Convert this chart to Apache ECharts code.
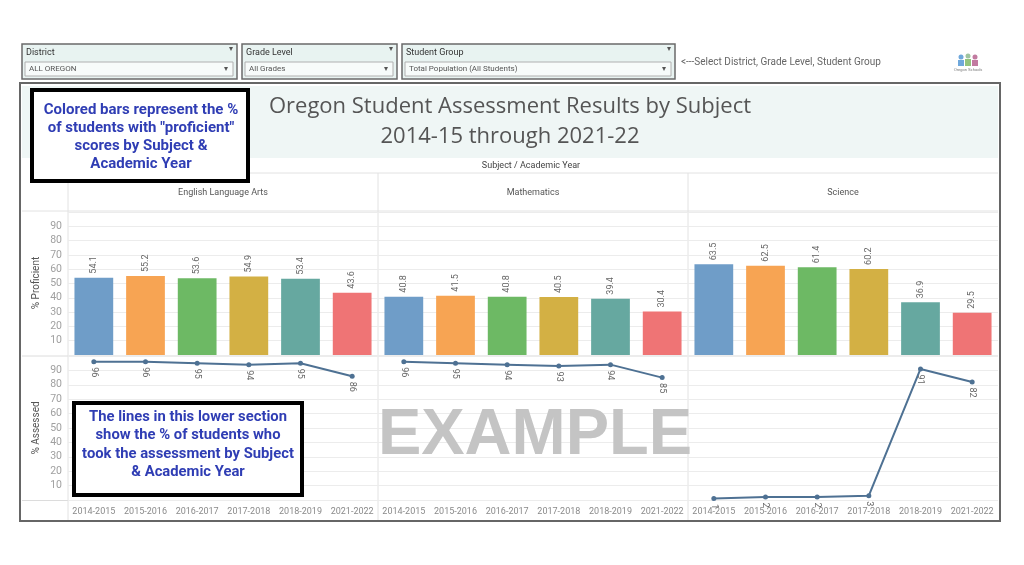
<!DOCTYPE html>
<html><head><meta charset="utf-8">
<script src="https://cdn.jsdelivr.net/npm/echarts@6/dist/echarts.min.js"></script>
<style>html,body{margin:0;padding:0;background:#fff}#c{width:1024px;height:565px}</style>
</head><body><div id="c"></div>
<script>
const years = ['2014-2015','2015-2016','2016-2017','2017-2018','2018-2019','2021-2022'];
const subjects = ['English Language Arts','Mathematics','Science'];
const proficientELA = [54.1,55.2,53.6,54.9,53.4,43.6];
const proficientMath = [40.8,41.5,40.8,40.5,39.4,30.4];
const proficientSci = [63.5,62.5,61.4,60.2,36.9,29.5];
const assessedELA = [96,96,95,94,95,86];
const assessedMath = [96,95,94,93,94,85];
const assessedSci = [1,2,2,3,91,82];
const yTicks = [10,20,30,40,50,60,70,80,90];

const barColors = ['#6f9dc8','#f7a453','#6db964','#d3b044','#66a8a0','#ef7475'];
const proficient = [proficientELA, proficientMath, proficientSci];
const assessed = [assessedELA, assessedMath, assessedSci];

const chart = echarts.init(document.getElementById('c'));
const panelLeft = [68, 378, 688];
const panelW = 310;
const grids = [], xAxes = [], yAxes = [], series = [];
for (let i = 0; i < 3; i++) {
  grids.push({left: panelLeft[i], top: 212, width: panelW, height: 143, containLabel: false});
}
for (let i = 0; i < 3; i++) {
  grids.push({left: panelLeft[i], top: 356, width: panelW, height: 144, containLabel: false});
}
const fontFam = 'Roboto, "Noto Sans", sans-serif';
for (let g = 0; g < 6; g++) {
  const bottomRow = g >= 3;
  xAxes.push({
    type: 'category', gridIndex: g, data: years, boundaryGap: true,
    axisLine: {show: false}, axisTick: {show: false},
    axisLabel: {show: bottomRow, color: '#8a8a8a', fontSize: 9, fontFamily: fontFam, margin: 7, interval: 0}
  });
  yAxes.push({
    type: 'value', gridIndex: g, min: 0, max: 100, interval: 10,
    axisLine: {show: false}, axisTick: {show: false},
    splitLine: {show: true, lineStyle: {color: '#ececec', width: 1}},
    axisLabel: {show: g === 0 || g === 3, color: '#a0a0a0', fontSize: 10.5, fontFamily: fontFam, margin: 6,
      formatter: v => yTicks.indexOf(v) >= 0 ? String(v) : ''}
  });
}
for (let i = 0; i < 3; i++) {
  series.push({
    type: 'bar', xAxisIndex: i, yAxisIndex: i, barWidth: '75%',
    data: proficient[i].map((v, k) => ({value: v, itemStyle: {color: barColors[k]}})),
    label: {show: true, position: 'top', rotate: 90, align: 'left', verticalAlign: 'middle', distance: 4,
      color: '#666', fontSize: 9, fontFamily: fontFam, formatter: p => p.value.toFixed(1)}
  });
  series.push({
    type: 'line', xAxisIndex: 3 + i, yAxisIndex: 3 + i, data: assessed[i],
    symbol: 'circle', symbolSize: 5,
    lineStyle: {color: '#4e7193', width: 2}, itemStyle: {color: '#4e7193'},
    label: {show: true, position: 'bottom', rotate: -90, align: 'left', verticalAlign: 'middle', distance: 3,
      color: '#666', fontSize: 9, fontFamily: fontFam},
    z: 20
  });
}

function filterBox(x, w, title, value) {
  return [
    {type: 'rect', shape: {x: x, y: 44, width: w, height: 35}, style: {fill: '#e8f3f1', stroke: '#6a6a6a', lineWidth: 1.5}},
    {type: 'text', style: {x: x + 4, y: 53, text: title, fill: '#333', fontSize: 9, fontFamily: fontFam, verticalAlign: 'middle'}},
    {type: 'text', style: {x: x + w - 6, y: 49, text: '▾', fill: '#555', fontSize: 8, align: 'center', verticalAlign: 'middle'}},
    {type: 'rect', shape: {x: x + 3, y: 62, width: w - 7, height: 14}, style: {fill: '#f7fbfa', stroke: '#b0b0b0', lineWidth: 1}},
    {type: 'text', style: {x: x + 7, y: 69, text: value, fill: '#555', fontSize: 8, fontFamily: fontFam, verticalAlign: 'middle'}},
    {type: 'text', style: {x: x + w - 11, y: 69, text: '▾', fill: '#555', fontSize: 8, align: 'center', verticalAlign: 'middle'}}
  ];
}
const annoColor = '#2f3db4';
const graphic = [].concat(
  filterBox(22, 215, 'District', 'ALL OREGON'),
  filterBox(242, 155, 'Grade Level', 'All Grades'),
  filterBox(402, 273, 'Student Group', 'Total Population (All Students)'),
  [
    {type: 'text', style: {x: 681, y: 62, text: '<---Select District, Grade Level, Student Group', fill: '#666', fontSize: 10, fontFamily: fontFam, verticalAlign: 'middle'}},
    // logo
    {type: 'circle', shape: {cx: 961, cy: 57, r: 2.5}, style: {fill: '#6fa8dc'}},
    {type: 'circle', shape: {cx: 968, cy: 56, r: 2.5}, style: {fill: '#9fc5a0'}},
    {type: 'circle', shape: {cx: 975, cy: 57, r: 2.5}, style: {fill: '#c27ba0'}},
    {type: 'rect', shape: {x: 958, y: 60, width: 6, height: 6}, style: {fill: '#6fa8dc'}},
    {type: 'rect', shape: {x: 965, y: 59, width: 6, height: 7}, style: {fill: '#93c47d'}},
    {type: 'rect', shape: {x: 972, y: 60, width: 6, height: 6}, style: {fill: '#c27ba0'}},
    {type: 'text', style: {x: 968, y: 70, text: 'Oregon Schools', fill: '#777', fontSize: 4, align: 'center', verticalAlign: 'middle'}},
    // main frame
    {type: 'rect', shape: {x: 20, y: 83, width: 980, height: 438}, style: {fill: 'none', stroke: '#666', lineWidth: 2}, z: 1},
    {type: 'rect', shape: {x: 22, y: 86, width: 976, height: 72}, style: {fill: '#eff6f5'}, z: -1},
    {type: 'text', style: {x: 510, y: 107, text: 'Oregon Student Assessment Results by Subject', fill: '#555', fontSize: 22, fontFamily: '"Open Sans", sans-serif', align: 'center', verticalAlign: 'middle'}},
    {type: 'text', style: {x: 510, y: 137, text: '2014-15 through 2021-22', fill: '#555', fontSize: 22, fontFamily: '"Open Sans", sans-serif', align: 'center', verticalAlign: 'middle'}},
    {type: 'text', style: {x: 531, y: 166, text: 'Subject / Academic Year', fill: '#444', fontSize: 9, fontFamily: fontFam, align: 'center', verticalAlign: 'middle'}},
    {type: 'line', shape: {x1: 68, y1: 173, x2: 998, y2: 173}, style: {stroke: '#e2e2e2', lineWidth: 1}},
    {type: 'line', shape: {x1: 22, y1: 211, x2: 998, y2: 211}, style: {stroke: '#e2e2e2', lineWidth: 1}},
    {type: 'line', shape: {x1: 22, y1: 356, x2: 998, y2: 356}, style: {stroke: '#dcdcdc', lineWidth: 1}},
    {type: 'line', shape: {x1: 22, y1: 500.5, x2: 998, y2: 500.5}, style: {stroke: '#dcdcdc', lineWidth: 1}},
    {type: 'line', shape: {x1: 68, y1: 173, x2: 68, y2: 520}, style: {stroke: '#e2e2e2', lineWidth: 1}},
    {type: 'line', shape: {x1: 378, y1: 173, x2: 378, y2: 520}, style: {stroke: '#e2e2e2', lineWidth: 1}},
    {type: 'line', shape: {x1: 688, y1: 173, x2: 688, y2: 520}, style: {stroke: '#e2e2e2', lineWidth: 1}},
    {type: 'text', style: {x: 223, y: 193, text: subjects[0], fill: '#555', fontSize: 9, fontFamily: fontFam, align: 'center', verticalAlign: 'middle'}},
    {type: 'text', style: {x: 533, y: 193, text: subjects[1], fill: '#555', fontSize: 9, fontFamily: fontFam, align: 'center', verticalAlign: 'middle'}},
    {type: 'text', style: {x: 843, y: 193, text: subjects[2], fill: '#555', fontSize: 9, fontFamily: fontFam, align: 'center', verticalAlign: 'middle'}},
    {type: 'text', x: 36, y: 283, rotation: Math.PI / 2, style: {x: 0, y: 0, text: '% Proficient', fill: '#555', fontSize: 10, fontFamily: fontFam, align: 'center', verticalAlign: 'middle'}},
    {type: 'text', x: 36, y: 428, rotation: Math.PI / 2, style: {x: 0, y: 0, text: '% Assessed', fill: '#555', fontSize: 10, fontFamily: fontFam, align: 'center', verticalAlign: 'middle'}},
    // watermark
    {type: 'text', z: 5, style: {x: 535, y: 436, text: 'EXAMPLE', fill: '#c4c4c4', fontSize: 65, fontWeight: 'bold', fontFamily: '"Liberation Sans", Arial, sans-serif', align: 'center', verticalAlign: 'middle'}},
    // annotation boxes
    {type: 'rect', z: 100, shape: {x: 32, y: 90, width: 216, height: 91}, style: {fill: '#fff', stroke: '#000', lineWidth: 4}},
    {type: 'text', z: 101, style: {x: 141, y: 137, text: 'Colored bars represent the %\nof students with "proficient"\nscores by Subject &\nAcademic Year', fill: annoColor, fontSize: 15, fontWeight: 'bold', lineHeight: 18, fontFamily: 'Roboto, sans-serif', align: 'center', verticalAlign: 'middle'}},
    {type: 'rect', z: 100, shape: {x: 74, y: 403, width: 228, height: 92}, style: {fill: '#fff', stroke: '#000', lineWidth: 4}},
    {type: 'text', z: 101, style: {x: 188, y: 445, text: 'The lines in this lower section\nshow the % of students who\ntook the assessment by Subject\n& Academic Year', fill: annoColor, fontSize: 14.8, fontWeight: 'bold', lineHeight: 18.5, fontFamily: 'Roboto, sans-serif', align: 'center', verticalAlign: 'middle'}}
  ]
);

chart.setOption({
  animation: false,
  backgroundColor: '#fff',
  grid: grids, xAxis: xAxes, yAxis: yAxes, series: series,
  graphic: graphic
});
</script></body></html>
